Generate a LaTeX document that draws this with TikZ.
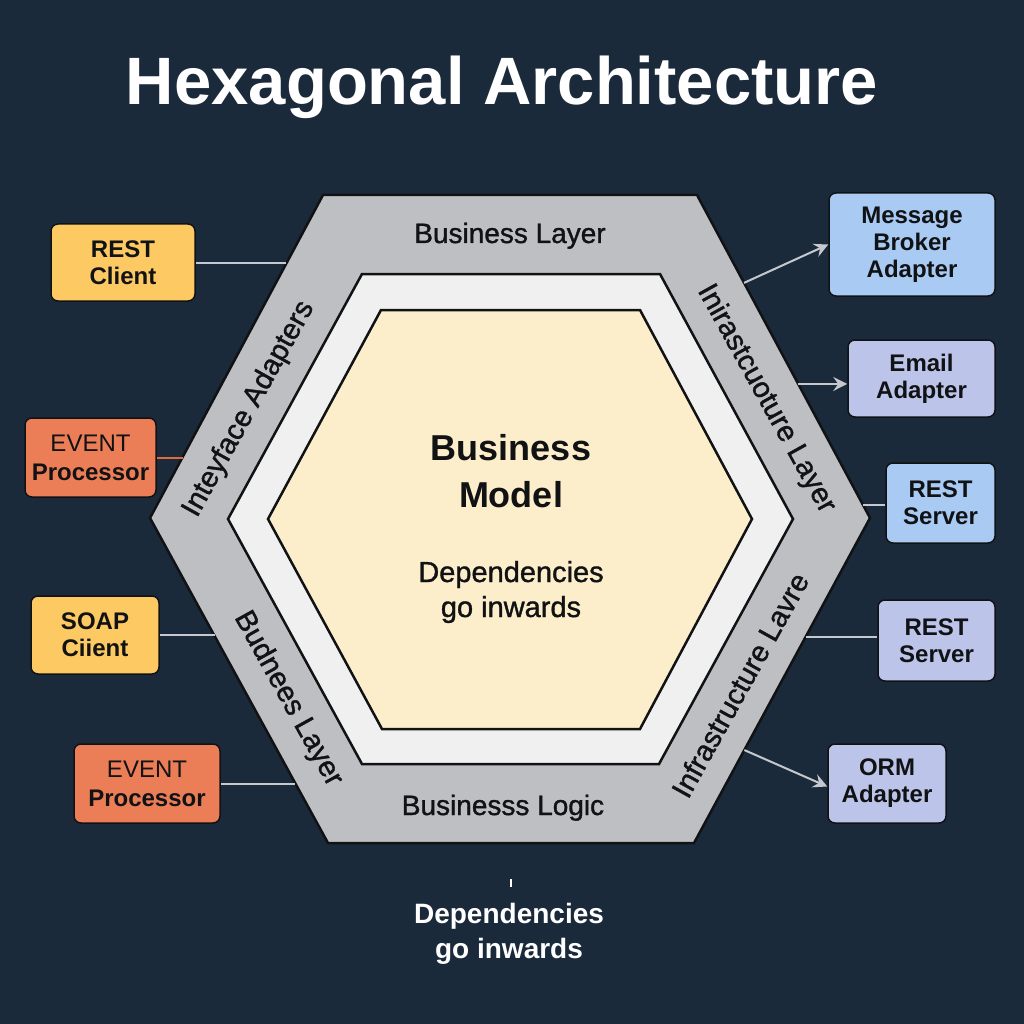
\documentclass[tikz,border=0pt]{standalone}
\usepackage{fontspec}
\setmainfont{Liberation Sans}
\newfontfamily\medfont{Liberation Sans}[FakeBold=1.2]
\usetikzlibrary{arrows.meta,calc}
\definecolor{bg}{HTML}{1B2A3B}
\definecolor{hexgray}{HTML}{BEBFC3}
\definecolor{hexlight}{HTML}{F0F0F1}
\definecolor{cream}{HTML}{FDEECB}
\definecolor{cyellow}{HTML}{FDC962}
\definecolor{corange}{HTML}{EC7E57}
\definecolor{cblue}{HTML}{A8CAF3}
\definecolor{clav}{HTML}{BCC4EA}
\definecolor{linegray}{HTML}{C5C9CF}
\definecolor{orangeline}{HTML}{E06A3A}
\definecolor{ink}{HTML}{111214}
\begin{document}
\begin{tikzpicture}[x=1pt,y=-1pt,
  hexline/.style={draw=ink, line width=2.5pt, line join=miter},
  box/.style={draw=ink, line width=1.5pt, rounded corners=7pt, align=center, text=ink, inner sep=0pt},
  boxtext/.style={font=\fontsize{24}{27}\selectfont\bfseries},
  conn/.style={draw=linegray, line width=2pt},
  arr/.style={conn, -{Stealth[length=14pt,width=14pt,inset=5pt]}},
  lbl/.style={font=\fontsize{28}{32}\selectfont\medfont, text=ink, inner sep=0pt},
  side/.style={font=\fontsize{29}{32}\selectfont\medfont, text=ink, inner sep=0pt}
]
\fill[bg] (0,0) rectangle (1024,1024);
\useasboundingbox (0,0) rectangle (1024,1024);

% title
\node[anchor=base, text=white, font=\fontsize{67}{70}\selectfont\bfseries] (title) at (502,105) {Hexagonal Architecture};

% outer hexagon
\coordinate (oTL) at (323,195);
\coordinate (oTR) at (697,195);
\coordinate (oR) at (870,518);
\coordinate (oBR) at (694,843);
\coordinate (oBL) at (328,843);
\coordinate (oL) at (150,518);
\draw[hexline, fill=hexgray] (oTL) -- (oTR) -- (oR) -- (oBR) -- (oBL) -- (oL) -- cycle;
% middle hexagon
\draw[hexline, fill=hexlight] (362,274) -- (660,274) -- (793,519) -- (659,764) -- (362,764) -- (228,519) -- cycle;
% inner hexagon
\draw[hexline, fill=cream] (381,310) -- (640,310) -- (752,519) -- (640,729) -- (382,729) -- (268,519) -- cycle;

% labels in hexagon
\node[lbl, anchor=base] (blayer) at (510,243) {Business Layer};
\node[lbl, anchor=base] (blogic) at (503,815) {Businesss Logic};
\node[side, rotate=61] (ifa) at (249,409) {Inteyface Adapters};
\node[side, rotate=-61] (inl) at (766,399) {Inirastcuoture Layer};
\node[side, rotate=61] (ifl) at (740,685) {Infrastructure Lavre};
\node[side, rotate=-61] (bul) at (288,699) {Budnees Layer};

\node[align=center, text=ink, font=\fontsize{36}{47}\selectfont\bfseries, anchor=base] (bm) at (511,507) {Business\\Model};
\node[align=center, text=ink, font=\fontsize{29}{35}\selectfont\medfont, anchor=base] (dep) at (511,617) {Dependencies\\go inwards};

% left boxes
\node[box, boxtext, fill=cyellow, minimum width=144pt, minimum height=77pt] (rc) at (123,262.5) {REST\\Client};
\node[box, fill=corange, minimum width=131pt, minimum height=79pt, font=\fontsize{24}{29}\selectfont] (ep1) at (90.5,457.5) {EVENT\\{\bfseries Processor}};
\node[box, boxtext, fill=cyellow, minimum width=128pt, minimum height=78pt] (sc) at (95,635) {SOAP\\Ciient};
\node[box, fill=corange, minimum width=146pt, minimum height=79pt, font=\fontsize{24}{29}\selectfont] (ep2) at (147,783.5) {EVENT\\{\bfseries Processor}};

% right boxes
\node[box, boxtext, fill=cblue, minimum width=166pt, minimum height=103pt] (mb) at (912,244.5) {Message\\Broker\\Adapter};
\node[box, boxtext, fill=clav, minimum width=147pt, minimum height=77pt] (em) at (921.5,378.5) {Email\\Adapter};
\node[box, boxtext, fill=cblue, minimum width=109pt, minimum height=80pt] (rs1) at (940.5,503) {REST\\Server};
\node[box, boxtext, fill=clav, minimum width=117pt, minimum height=81pt] (rs2) at (936.5,640.5) {REST\\Server};
\node[box, boxtext, fill=clav, minimum width=118pt, minimum height=79pt] (orm) at (887,783.5) {ORM\\Adapter};

% edge points
\coordinate (eRC) at ($(oL)!0.786!(oTL)$);
\coordinate (eEP1) at ($(oL)!0.19!(oTL)$);
\coordinate (eSC) at ($(oL)!0.363!(oBL)$);
\coordinate (eEP2) at ($(oL)!0.815!(oBL)$);
\coordinate (eMB) at ($(oTR)!0.272!(oR)$);
\coordinate (eEM) at ($(oTR)!0.585!(oR)$);
\coordinate (eRS1) at ($(oTR)!0.96!(oR)$);
\coordinate (eRS2) at ($(oR)!0.366!(oBR)$);
\coordinate (eORM) at ($(oR)!0.714!(oBR)$);

% connectors
\draw[conn] (rc.east) -- (rc.east -| eRC);
\draw[conn, draw=orangeline] (ep1.east) -- (ep1.east -| eEP1);
\draw[conn] (sc.east) -- (sc.east -| eSC);
\draw[conn] (ep2.east) -- (ep2.east -| eEP2);
\draw[arr] (eMB) -- (mb.west);
\draw[arr] (eEM) -- (eEM -| em.west);
\draw[conn] (eRS1) -- (eRS1 -| rs1.west);
\draw[conn] (eRS2) -- (eRS2 -| rs2.west);
\draw[arr] (eORM) -- ($(orm.west)+(0,3)$);

% bottom note
\coordinate (tickTop) at (511,879);
\coordinate (tickBot) at (511,887);
\draw[white, line width=2pt] (tickTop) -- (tickBot);
\node[align=center, text=white, font=\fontsize{28}{35}\selectfont\bfseries, anchor=base] (note) at (509,958) {Dependencies\\go inwards};
\end{tikzpicture}
\end{document}
